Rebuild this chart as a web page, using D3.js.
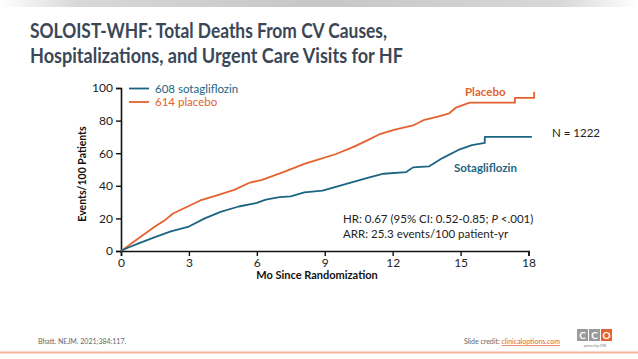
<!DOCTYPE html>
<html><head><meta charset="utf-8">
<script src="https://cdn.jsdelivr.net/npm/d3@7/dist/d3.min.js"></script>
<style>
html,body{margin:0;padding:0;background:#fff;}
svg{display:block;font-family:Lato,"Open Sans",sans-serif;}
</style></head>
<body>
<svg id="c" width="638" height="359"></svg>
<script>
// ---- data ----
const titleLines = ["SOLOIST-WHF: Total Deaths From CV Causes,", "Hospitalizations, and Urgent Care Visits for HF"];
const xTicks = [0, 3, 6, 9, 12, 15, 18];
const yTicks = [0, 20, 40, 60, 80, 100];
const seriesNames = ["608 sotagliflozin", "614 placebo"];
const sotaMonths = [0, 0.3, 0.75, 1.5, 2.2, 3.0, 3.7, 4.4, 5.2, 6.0, 6.4, 7.0, 7.5, 8.1, 8.9, 9.8, 10.85, 11.6, 12.6, 12.9, 13.6, 14.2, 14.9, 15.5, 16.07, 16.07, 18.15];
const sotaValues = [0, 2, 4.5, 8.5, 12, 15, 20, 24, 27.3, 29.5, 31.5, 33, 33.5, 36, 37, 40.5, 44.7, 47.4, 48.4, 51.3, 51.9, 57, 62, 65, 66.3, 70, 70];
const placMonths = [0, 0.3, 0.7, 1.1, 1.5, 1.9, 2.3, 2.9, 3.5, 4.2, 5.0, 5.7, 6.2, 7.2, 8.1, 8.7, 9.5, 10.3, 10.9, 11.4, 12.1, 12.9, 13.4, 14.0, 14.5, 14.8, 15.4, 17.4, 17.4, 18.25, 18.25];
const placValues = [0, 3, 7, 11, 15, 18.5, 23, 27, 31, 34, 37.5, 42, 43.5, 48.5, 53.5, 56, 59.5, 64, 68, 71.5, 74.5, 77, 80.5, 82.5, 84.5, 88, 91, 91, 94, 94, 97.7];

const svg = d3.select("#c");
const BLUE = "#1c6582", ORANGE = "#e5612e", TITLE = "#3b4756";

// top gradient band
const defs = svg.append("defs");
const g1 = defs.append("linearGradient").attr("id", "band").attr("x1", 0).attr("x2", 1).attr("y1", 0).attr("y2", 0);
[[0, "#ffffff"], [0.12, "#d8d8d8"], [0.5, "#c6c6c6"], [0.88, "#d8d8d8"], [1, "#ffffff"]].forEach(s => g1.append("stop").attr("offset", s[0]).attr("stop-color", s[1]));
svg.append("rect").attr("x", 0).attr("y", 0).attr("width", 638).attr("height", 7).attr("fill", "url(#band)");

// title
const titleWidths = [357, 373];
titleLines.forEach((t, i) => {
  svg.append("text").attr("x", 30).attr("y", 38 + i * 25).text(t)
    .attr("font-size", 20).attr("font-weight", 700).attr("fill", TITLE)
    .attr("textLength", titleWidths[i]).attr("lengthAdjust", "spacingAndGlyphs");
});

// scales
const x = d3.scaleLinear().domain([0, 18]).range([121, 528.5]);
const y = d3.scaleLinear().domain([0, 100]).range([251, 88]);

const xAxis = svg.append("g").attr("transform", "translate(0,251)")
  .call(d3.axisBottom(x).tickValues(xTicks).tickSize(5).tickPadding(2).tickFormat(d3.format("d")));
const yAxis = svg.append("g").attr("transform", "translate(121,0)")
  .call(d3.axisLeft(y).tickValues(yTicks).tickSize(5).tickPadding(3).tickFormat(d3.format("d")));
[xAxis, yAxis].forEach(a => {
  a.select(".domain").attr("stroke", "#111").attr("stroke-width", 1.6);
  a.selectAll(".tick line").attr("stroke", "#111").attr("stroke-width", 1.4);
  a.selectAll(".tick text").attr("font-size", 12).attr("fill", "#222").attr("font-family", "Lato, sans-serif");
});

// axis titles
svg.append("text").attr("x", 317).attr("y", 279).attr("text-anchor", "middle")
  .attr("font-size", 11).attr("font-weight", 700).attr("fill", "#111").text("Mo Since Randomization");
svg.append("text").attr("transform", "translate(86,174) rotate(-90)").attr("text-anchor", "middle")
  .attr("font-size", 10.5).attr("font-weight", 700).attr("fill", "#111").text("Events/100 Patients");

// lines
const line = d3.line().x(d => x(d[0])).y(d => y(d[1]));
const sota = sotaMonths.map((m, i) => [m, sotaValues[i]]);
const plac = placMonths.map((m, i) => [m, placValues[i]]);
svg.append("path").datum(plac).attr("d", line).attr("fill", "none").attr("stroke", ORANGE).attr("stroke-width", 1.8).attr("stroke-linejoin", "round");
svg.append("path").datum(sota).attr("d", line).attr("fill", "none").attr("stroke", BLUE).attr("stroke-width", 1.8).attr("stroke-linejoin", "round");

// legend
const colors = [BLUE, ORANGE];
seriesNames.forEach((n, i) => {
  const yy = 88.5 + i * 13.5;
  svg.append("line").attr("x1", 129).attr("x2", 149).attr("y1", yy).attr("y2", yy).attr("stroke", colors[i]).attr("stroke-width", 1.8);
  svg.append("text").attr("x", 155).attr("y", yy + 4).attr("font-size", 11.5).attr("fill", colors[i]).text(n);
});

// annotations
svg.append("text").attr("x", 465).attr("y", 96).attr("font-size", 11.5).attr("font-weight", 700).attr("fill", ORANGE).text("Placebo");
svg.append("text").attr("x", 454).attr("y", 171.5).attr("font-size", 11.5).attr("font-weight", 700).attr("fill", BLUE).text("Sotagliflozin");
svg.append("text").attr("x", 552).attr("y", 137).attr("font-size", 11.5).attr("fill", "#222").text("N = 1222");
const hr = svg.append("text").attr("x", 343).attr("y", 223).attr("font-size", 11.5).attr("fill", "#222");
hr.append("tspan").text("HR: 0.67 (95% CI: 0.52-0.85; ");
hr.append("tspan").attr("font-style", "italic").text("P");
hr.append("tspan").text(" <.001)");
svg.append("text").attr("x", 343).attr("y", 238).attr("font-size", 11.5).attr("fill", "#222").text("ARR: 25.3 events/100 patient-yr");

// footer
svg.append("text").attr("x", 38).attr("y", 344).attr("font-size", 7).attr("fill", "#666").text("Bhatt. NEJM. 2021;384:117.");
const sc = svg.append("text").attr("x", 560).attr("y", 344).attr("text-anchor", "end").attr("font-size", 7).attr("fill", "#666");
sc.append("tspan").text("Slide credit: ");
sc.append("tspan").attr("fill", ORANGE).attr("text-decoration", "underline").text("clinicaloptions.com");
const logo = [["C", "#9a9a9a"], ["C", "#9a9a9a"], ["O", ORANGE]];
logo.forEach((l, i) => {
  svg.append("rect").attr("x", 577 + i * 12).attr("y", 329).attr("width", 11).attr("height", 12).attr("fill", l[1]);
  svg.append("text").attr("x", 582.5 + i * 12).attr("y", 339).attr("text-anchor", "middle").attr("font-size", 10).attr("font-weight", 700).attr("fill", "#fff").text(l[0]);
});
svg.append("text").attr("x", 595).attr("y", 347).attr("text-anchor", "middle").attr("font-size", 3).attr("fill", "#777").text("partnership CME");
svg.append("rect").attr("x", 0).attr("y", 351.5).attr("width", 638).attr("height", 2).attr("fill", "#f2b49c");
</script>
</body></html>
